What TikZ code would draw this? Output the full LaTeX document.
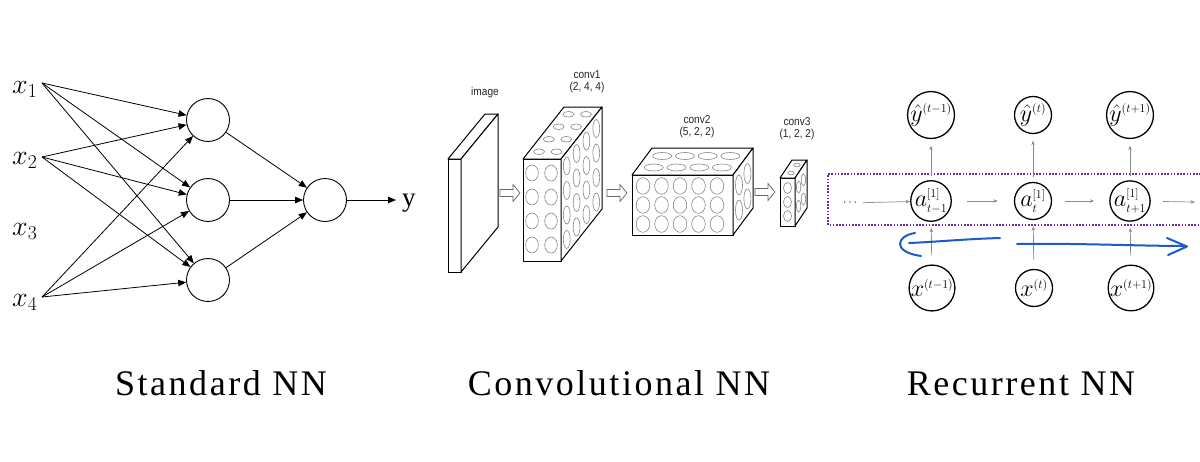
\RequirePackage{fix-cm}
\documentclass[tikz,border=0pt]{standalone}
\usepackage{fontspec}
\setmainfont{Liberation Serif}
\newfontfamily\capfont[LetterSpace=7]{Liberation Serif}
\newfontfamily\lblfont[FakeStretch=0.88]{Liberation Sans}
\usetikzlibrary{arrows.meta}
\definecolor{handblue}{RGB}{28,92,200}
\definecolor{dotpurple}{RGB}{105,45,165}
\definecolor{rgray}{RGB}{140,140,140}
\definecolor{holegray}{RGB}{135,135,135}
\tikzset{
  neuron/.style={circle, draw, line width=0.9pt, minimum size=43pt, inner sep=0pt, fill=white},
  nnarrow/.style={-{Triangle[length=8pt,width=6.5pt]}, line width=0.8pt},
  inlabel/.style={anchor=base west, inner sep=0pt, font=\fontsize{28}{32}\selectfont},
  rnode/.style={circle, draw, line width=1.3pt, minimum size=37pt, inner sep=0pt, fill=white, font=\fontsize{24}{27}\selectfont},
  garrow/.style={-{Stealth[length=4.5pt,width=3.5pt]}, draw=rgray, line width=0.7pt},
  boxline/.style={draw=black, line width=1pt, fill=white, line join=round},
  hole/.style={draw=holegray, line width=0.6pt},
  blockarrow/.style={draw=black!60, line width=0.7pt, fill=white, line join=miter},
  captext/.style={anchor=base, inner sep=0pt, font=\capfont\fontsize{36}{40}\selectfont},
  cnnlabel/.style={inner sep=0pt, text=black!85, font=\lblfont\fontsize{11.5}{13}\selectfont},
  handdrawn/.style={draw=handblue, line width=2pt, line cap=round, line join=round},
  dotbox/.style={draw=dotpurple, line width=1.8pt, dash pattern=on 1.6pt off 1.6pt}
}
\begin{document}
\begin{tikzpicture}[x=1pt,y=-1pt]
\useasboundingbox (0,0) rectangle (1200,461);
\fill[white] (0,0) rectangle (1200,461);

% ---------------- Standard NN ----------------
\node[neuron] (h1) at (208,120) {};
\node[neuron] (h2) at (208,200) {};
\node[neuron] (h3) at (208,280) {};
\node[neuron] (out) at (325,200) {};
\node[inlabel] (lx1) at (12,93) {$x_1$};
\node[inlabel] (lx2) at (12,164) {$x_2$};
\node[inlabel] (lx3) at (12,235) {$x_3$};
\node[inlabel] (lx4) at (12,306) {$x_4$};
\coordinate (s1) at (42,83);
\coordinate (s2) at (42,157);
\coordinate (s4) at (42,297);
\foreach \s in {s1,s2,s4}{
  \foreach \h in {h1,h2,h3}{
    \draw[nnarrow] (\s) -- (\h);
  }
}
\draw[nnarrow] (h1) -- (out);
\draw[nnarrow] (h2) -- (out);
\draw[nnarrow] (h3) -- (out);
\coordinate (yend) at (396,200);
\draw[nnarrow] (out) -- (yend);
\node[anchor=base west, inner sep=0pt, font=\fontsize{27}{30}\selectfont] (ylab) at (402,206) {y};

% ---------------- Convolutional NN ----------------
% image slab
\draw[boxline] (448,159) rectangle (461,272);
\draw[boxline] (448,159) -- (485,114) -- (498,114) -- (461,159) -- cycle;
\draw[boxline] (461,159) -- (498,114) -- (498,227) -- (461,272) -- cycle;
\node[cnnlabel] (limage) at (485,93) {image};

% conv1
\draw[boxline] (523,159) rectangle (561,261);
\draw[boxline] (523,159) -- (564,107) -- (602,107) -- (561,159) -- cycle;
\draw[boxline] (561,159) -- (602,107) -- (602,209) -- (561,261) -- cycle;
\foreach \cx in {532,551}{
  \foreach \cy in {173,197,221,245}{
    \draw[hole] (\cx,\cy) ellipse [x radius=6.3pt, y radius=8pt];
  }
}
\foreach \s in {0.27,0.73}{
  \foreach \u in {0.14,0.38,0.62,0.86}{
    \draw[hole] ({523+38*\s+41*\u},{159-52*\u}) ellipse [x radius=5.5pt, y radius=2.8pt];
  }
}
\foreach \u in {0.14,0.38,0.62,0.86}{
  \foreach \v in {0.14,0.38,0.62,0.86}{
    \draw[hole] ({561+41*\u},{159-52*\u+102*\v}) ellipse [x radius=3.4pt, y radius=9pt];
  }
}
\node[cnnlabel] (lconv1) at (587,75) {conv1};
\node[cnnlabel] (ldim1) at (587,88) {(2, 4, 4)};

% conv2
\draw[boxline] (632,175) rectangle (733,235);
\draw[boxline] (632,175) -- (652,148) -- (753,148) -- (733,175) -- cycle;
\draw[boxline] (733,175) -- (753,148) -- (753,208) -- (733,235) -- cycle;
\foreach \i in {0,...,4}{
  \foreach \cy in {186,205,224}{
    \draw[hole] ({643+18.5*\i},\cy) ellipse [x radius=6.8pt, y radius=8.3pt];
  }
}
\foreach \i in {0,...,3}{
  \draw[hole] ({662.2+22.7*\i},156) ellipse [x radius=9.5pt, y radius=3.5pt];
  \draw[hole] ({653.8+22.7*\i},167.5) ellipse [x radius=9.5pt, y radius=3.5pt];
}
\foreach \u in {0.3,0.72}{
  \foreach \v in {0.3,0.72}{
    \draw[hole] ({733+20*\u},{175-27*\u+60*\v}) ellipse [x radius=3.5pt, y radius=10pt];
  }
}
\node[cnnlabel] (lconv2) at (697,120) {conv2};
\node[cnnlabel] (ldim2) at (697,133) {(5, 2, 2)};

% conv3
\draw[boxline] (780,178) rectangle (795,226);
\draw[boxline] (780,178) -- (792,160) -- (807,160) -- (795,178) -- cycle;
\draw[boxline] (795,178) -- (807,160) -- (807,208) -- (795,226) -- cycle;
\foreach \cy in {188,202,216}{
  \draw[hole] (787.5,\cy) ellipse [x radius=4pt, y radius=5.5pt];
}
\draw[hole] (791,173) ellipse [x radius=3.3pt, y radius=1.8pt];
\draw[hole] (797,165) ellipse [x radius=3.3pt, y radius=1.8pt];
\foreach \u in {0.3,0.7}{
  \foreach \v in {0.3,0.7}{
    \draw[hole] ({795+12*\u},{178-18*\u+48*\v}) ellipse [x radius=2.2pt, y radius=6pt];
  }
}
\node[cnnlabel] (lconv3) at (797,122) {conv3};
\node[cnnlabel] (ldim3) at (797,135) {(1, 2, 2)};

% hollow block arrows
\foreach \tx/\ty in {520/193, 627/193, 775/192}{
  \draw[blockarrow] (\tx-20,\ty-3.5) -- (\tx-7,\ty-3.5) -- (\tx-7,\ty-8.5) -- (\tx,\ty)
     -- (\tx-7,\ty+8.5) -- (\tx-7,\ty+3.5) -- (\tx-20,\ty+3.5) -- cycle;
}

% ---------------- Recurrent NN ----------------
\draw[dotbox] (1201,174) -- (828,174) -- (828,225) -- (1201,225);
\node[rnode] (yh1) at (931,115) {$\hat{y}^{\scriptscriptstyle(t-1)}$};
\node[rnode] (yh2) at (1033,115) {$\hat{y}^{\scriptscriptstyle(t)}$};
\node[rnode] (yh3) at (1130,115) {$\hat{y}^{\scriptscriptstyle(t+1)}$};
\node[rnode] (ra1) at (931,201) {$a^{\scriptscriptstyle[1]}_{\scriptscriptstyle t-1}$};
\node[rnode] (ra2) at (1033,201) {$a^{\scriptscriptstyle[1]}_{\scriptscriptstyle t}$};
\node[rnode] (ra3) at (1130,201) {$a^{\scriptscriptstyle[1]}_{\scriptscriptstyle t+1}$};
\node[rnode] (rx1) at (932,288) {$x^{\scriptscriptstyle(t-1)}$};
\node[rnode] (rx2) at (1034,288) {$x^{\scriptscriptstyle(t)}$};
\node[rnode] (rx3) at (1131,288) {$x^{\scriptscriptstyle(t+1)}$};
\node[inner sep=0pt, font=\fontsize{12}{14}\selectfont] (rdots) at (850,203) {$\cdots$};
\coordinate (rend) at (1195,202);

\draw[garrow, shorten <=6pt] (rdots) -- (ra1);
\draw[garrow, shorten <=15pt, shorten >=16pt] (ra1) -- (ra2);
\draw[garrow, shorten <=13pt, shorten >=15pt] (ra2) -- (ra3);
\draw[garrow, shorten <=12pt] (ra3) -- (rend);
\foreach \i in {1,2,3}{
  \draw[garrow, shorten <=9pt, shorten >=6pt] (rx\i) -- (ra\i);
  \draw[garrow, shorten <=4.5pt, shorten >=6.5pt] (ra\i) -- (yh\i);
}

% hand-drawn blue strokes
\draw[handdrawn] (1000,238) .. controls (965,239) and (935,242) .. (909,243);
\draw[handdrawn] (915,233) .. controls (896,236) and (892,252) .. (921,256);
\draw[handdrawn] (1017,244) .. controls (1075,243) and (1140,246) .. (1185,246);
\draw[handdrawn] (1167,238) -- (1187,246.5) -- (1168,255);

% ---------------- captions ----------------
\node[captext] (cap1) at (221,395) {Standard NN};
\node[captext] (cap2) at (619,395) {Convolutional NN};
\node[captext] (cap3) at (1021,395) {Recurrent NN};
\end{tikzpicture}
\end{document}
